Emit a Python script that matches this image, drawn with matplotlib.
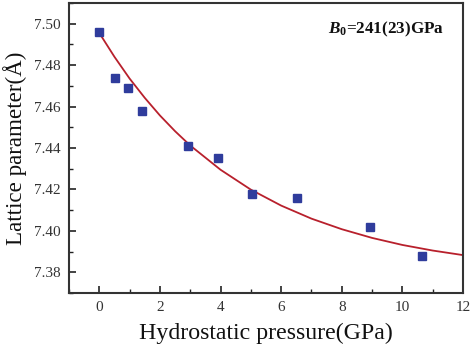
import matplotlib
matplotlib.use("Agg")
import matplotlib.pyplot as plt
from matplotlib.ticker import MultipleLocator

# Measured data
pressure = [0.0, 0.52, 0.94, 1.42, 2.94, 3.92, 5.03, 6.52, 8.93, 10.64]
lattice = [7.4960, 7.4740, 7.4690, 7.4579, 7.4409, 7.4352, 7.4177, 7.4160, 7.4020, 7.3879]

# Fitted curve
fit_p = [0, 0.5, 1, 1.5, 2, 2.5, 3, 4, 5, 6, 7, 8, 9, 10, 11, 12]
fit_a = [7.4955, 7.4840, 7.4735, 7.4642, 7.4557, 7.4481, 7.4412, 7.4295, 7.4199,
         7.4122, 7.4059, 7.4008, 7.3966, 7.3932, 7.3905, 7.3883]

x_ticks = [0, 2, 4, 6, 8, 10, 12]
y_ticks = [7.38, 7.40, 7.42, 7.44, 7.46, 7.48, 7.50]

plt.rcParams['font.family'] = ['Liberation Serif', 'DejaVu Serif']
plt.rcParams['mathtext.fontset'] = 'custom'
plt.rcParams['mathtext.rm'] = 'Liberation Serif'
plt.rcParams['mathtext.bf'] = 'Liberation Serif:bold'
plt.rcParams['mathtext.it'] = 'Liberation Serif:italic'
plt.rcParams['mathtext.bfit'] = 'Liberation Serif:italic:bold'

fig = plt.figure(figsize=(4.74, 3.51), dpi=100)
ax = fig.add_axes([0.1456, 0.1652, 0.8312, 0.8263])

ax.plot(fit_p, fit_a, color='#B8202C', lw=1.3, zorder=2)
ax.plot(pressure, lattice, 's', color='#2F3C9C', ms=5.5, mec='#2F3C9C', zorder=3)

ax.set_xlim(-1, 12)
ax.set_ylim(7.37, 7.51)
ax.set_xticks(x_ticks)
ax.set_yticks(y_ticks)
ax.set_xticklabels([str(v) for v in x_ticks])
ax.set_yticklabels([f"{v:.2f}" for v in y_ticks])
ax.xaxis.set_minor_locator(MultipleLocator(1))
ax.yaxis.set_minor_locator(MultipleLocator(0.01))

ax.tick_params(which='both', direction='in', top=False, right=False,
               labelsize=11, color='#222222', labelcolor='#333333')
ax.tick_params(which='major', length=5, width=1.2, pad=6)
ax.tick_params(which='minor', length=3, width=1.0)
for s in ax.spines.values():
    s.set_linewidth(1.5)
    s.set_color('#333333')

ax.set_xlabel('Hydrostatic pressure(GPa)', fontsize=17.2, labelpad=6, color='#111111')
ax.set_ylabel('Lattice parameter(Å)', fontsize=16.6, labelpad=5, color='#111111')

ax.text(0.658, 0.895, r'$\mathbfit{B}_{\mathbf{0}}$=241(23)GPa', transform=ax.transAxes,
        fontsize=12.3, fontweight='bold', ha='left', va='baseline', color='#111111')

fig.savefig('out.png', dpi=100)
